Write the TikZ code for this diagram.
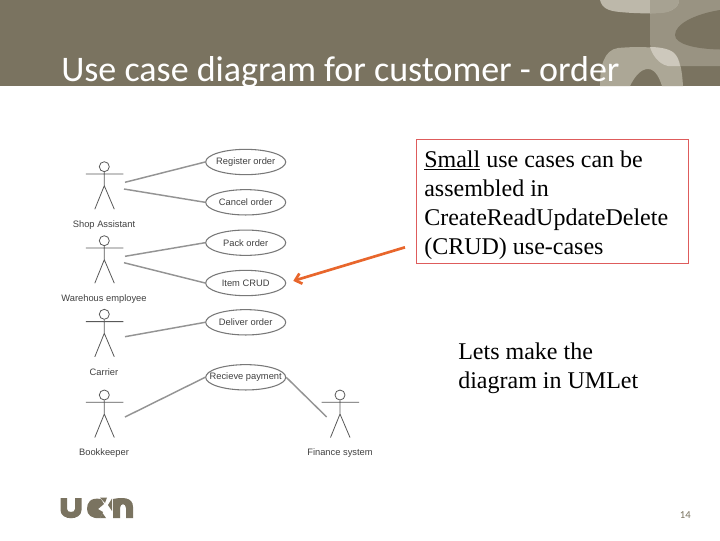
\documentclass[tikz,border=0pt]{standalone}
\usepackage{fontspec}
\setmainfont{Liberation Serif}
\newfontfamily\titlefont{Carlito}
\newfontfamily\umlfont{Liberation Sans}
\usetikzlibrary{arrows.meta,calc,shapes.geometric}
\definecolor{HeaderClr}{RGB}{122,115,96}
\definecolor{BlobClr}{RGB}{153,147,130}
\definecolor{PaleClr}{RGB}{172,167,150}
\definecolor{TopClr}{RGB}{189,184,170}
\definecolor{PalerClr}{RGB}{205,200,188}
\definecolor{UmlClr}{RGB}{120,120,120}
\definecolor{ArrowClr}{RGB}{232,102,44}
\definecolor{NoteClr}{RGB}{222,92,92}
\tikzset{
  usecase/.style={draw=UmlClr,line width=.8pt,ellipse,minimum width=60pt,minimum height=19pt,inner sep=0pt,text=black!75,font=\umlfont\fontsize{7}{8}\selectfont},
  actorlabel/.style={text=black!75,inner sep=0pt,font=\umlfont\fontsize{7}{8}\selectfont},
  actorline/.style={draw=black!65,line width=.6pt},
  assoc/.style={draw=black!42,line width=1.1pt},
  bodytext/.style={inner sep=0pt,align=left,anchor=north west,font=\fontsize{18}{21.75}\selectfont},
}
% stick figure, head centre at #2
\newcommand{\umlactor}[2]{
  \begin{scope}[shift={#2}]
    \node[actorline,circle,minimum size=7.5pt,inner sep=0pt] (#1) at (0,0) {};
    \draw[actorline] (#1.south) -- (0,19) (-18.5,7.3) -- (19,7.3)
      (-9.5,42.5) -- (0,19) -- (10,42.5);
  \end{scope}
}
\begin{document}
\begin{tikzpicture}[x=.75pt,y=-.75pt]
\useasboundingbox (0,0) rectangle (720,540);
\fill[white] (0,0) rectangle (720,540);

% header band
\fill[HeaderClr] (0,0) rectangle (720,86);
\begin{scope}
\clip (0,0) rectangle (720,86);
\fill[BlobClr] (650,0) -- (650,40) .. controls (650,52) and (654,66) .. (668,66)
  -- (720,66) -- (720,0) -- cycle;
\fill[HeaderClr] (720,10) .. controls (695,14) and (675,24) .. (675,35)
  .. controls (675,44) and (695,49) .. (720,49.5) -- cycle;
\fill[TopClr] (600,0) .. controls (602,8) and (608,11) .. (620,12)
  .. controls (640,14) and (665,14) .. (672,10) .. controls (677,7) and (679,4) .. (679,0) -- cycle;
\fill[BlobClr!60!TopClr] (650,0) -- (650,13.3) .. controls (660,13.3) and (668,13) .. (672,10)
  .. controls (677,7) and (679,4) .. (679,0) -- cycle;
\fill[PaleClr] (600,86) .. controls (600,66) and (604,50) .. (618,48)
  .. controls (640,46) and (665,47) .. (674,53) .. controls (680,58) and (682,70) .. (683,86)
  -- (662,86) .. controls (660,80) and (656,69) .. (648,69)
  .. controls (640,69) and (634,78) .. (630,86) -- cycle;
\fill[PalerClr] (650,47) .. controls (660,47) and (670,49) .. (674,53)
  .. controls (677,56) and (679,60) .. (680,66) -- (668,66) .. controls (658,64) and (652,54) .. (650,47) -- cycle;
\end{scope}
\node[anchor=base west,inner sep=0pt,text=white,font=\titlefont\fontsize{27}{30}\selectfont] (title) at (61,81.5) {Use case diagram for customer - order};

% actors
\umlactor{shop}{(104.3,166.7)}
\umlactor{ware}{(104.3,240.7)}
\umlactor{carrier}{(104.3,314.3)}
\umlactor{keeper}{(104.3,395)}
\umlactor{finance}{(340,395)}
\node[actorlabel] (shoplbl) at (104,224.7) {Shop Assistant};
\node[actorlabel] (warelbl) at (104,298.7) {Warehous employee};
\node[actorlabel] (carrierlbl) at (104,372) {Carrier};
\node[actorlabel] (keeperlbl) at (104,453) {Bookkeeper};
\node[actorlabel] (financelbl) at (340,453) {Finance system};

% use cases
\node[usecase] (register) at (245.7,162) {\clap{Register order}};
\node[usecase] (cancel) at (245.7,202.3) {Cancel order};
\node[usecase] (pack) at (245.7,242.7) {Pack order};
\node[usecase] (item) at (245.7,283) {Item CRUD};
\node[usecase] (deliver) at (245.7,322.3) {Deliver order};
\node[usecase] (payment) at (245.7,377.3) {\clap{Recieve payment}};

% free ends
\coordinate (shopa) at (125,182.3);
\coordinate (shopb) at (124,189);
\coordinate (warea) at (125,256.3);
\coordinate (wareb) at (124,262.7);
\coordinate (carriera) at (125,336.7);
\coordinate (keepera) at (125,417);
\coordinate (financea) at (326.7,417);
\draw[assoc] (shopa) -- (register.west);
\draw[assoc] (shopb) -- (cancel.west);
\draw[assoc] (warea) -- (pack.west);
\draw[assoc] (wareb) -- (item.west);
\draw[assoc] (carriera) -- (deliver.west);
\draw[assoc] (keepera) -- (payment.west);
\draw[assoc] (financea) -- (payment.east);

% note
\node[draw=NoteClr,line width=.6pt,minimum width=204.5pt,minimum height=93pt,inner sep=0pt] (note) at (552.5,201.3) {};
\node[bodytext] (notetext) at (424,150.3) {\underline{Small} use cases can be\\assembled in\\CreateReadUpdateDelete\\(CRUD) use-cases};
\coordinate (notetail) at (405,247.3);
\draw[-{Straight Barb[length=4.5pt,width=8pt]},ArrowClr,line width=2pt,shorten >=5.5pt] (notetail) -- (item.east);

\node[bodytext] (umlet) at (458,342.5) {Lets make the\\diagram in UMLet};

% footer
\node[anchor=base east,inner sep=0pt,text=HeaderClr,font=\titlefont\fontsize{8}{10}\selectfont] (pageno) at (691,518) {14};
% logo
\fill[HeaderClr] (60.5,498) -- (67,498) -- (67,509) .. controls (67,513) and (75,513) .. (75,509)
  -- (75,498) -- (81.5,498) -- (81.5,510) .. controls (81.5,521) and (60.5,521) .. (60.5,510) -- cycle;
\fill[HeaderClr] (101,499) .. controls (90,497) and (87,503) .. (87,509)
  .. controls (87,515) and (92,519) .. (100,518) -- (103,512) -- (98,509) -- (104,504) -- cycle;
\fill[HeaderClr] (100,497.5) -- (107,497.5) -- (105,503) -- cycle;
\fill[HeaderClr] (102.5,513) -- (106,518) -- (100,518) -- cycle;
\fill[HeaderClr] (108,505) -- (112,498.5) -- (112,511) -- cycle;
\fill[HeaderClr] (113,518) -- (113,499) .. controls (122,497) and (133,497) .. (133,507)
  -- (133,518) -- (126,518) -- (126,508) .. controls (126,503) and (120,503) .. (120,508) -- (120,518) -- cycle;
\end{tikzpicture}
\end{document}
